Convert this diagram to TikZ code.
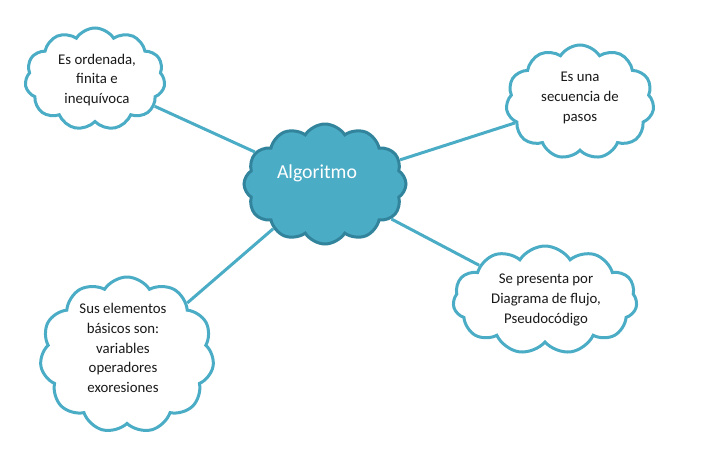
\documentclass[tikz,border=0pt]{standalone}
\usepackage{fontspec}
\setmainfont{Carlito}
\usetikzlibrary{shapes.symbols}
\definecolor{acc}{HTML}{4BACC6}
\definecolor{accdark}{HTML}{31849B}
\tikzset{
  bubble/.style={cloud, cloud puffs=11, cloud puff arc=115, cloud ignores aspect,
    draw=acc, line width=3pt, fill=white, inner sep=0pt},
  mainbubble/.style={cloud, cloud puffs=12, cloud puff arc=115, cloud ignores aspect,
    draw=accdark, line width=3pt, fill=acc, inner sep=0pt},
  txt/.style={align=center, text=black!90, font=\fontsize{14.8}{19.8}\selectfont, inner sep=0pt},
  link/.style={draw=acc, line width=3pt}
}
\begin{document}
\begin{tikzpicture}[x=1pt,y=-1pt]
\useasboundingbox (0,0) rectangle (725,466);
\node[mainbubble, minimum width=162, minimum height=120] (c) at (325,184) {};
\node[bubble, minimum width=140, minimum height=102] (tl) at (95,79) {};
\node[bubble, minimum width=148, minimum height=114] (tr) at (580,102) {};
\node[bubble, minimum width=184, minimum height=108] (br) at (545,300) {};
\node[bubble, minimum width=174, minimum height=156] (bl) at (127,355) {};
\draw[link] (tl) -- (c);
\draw[link] (tr) -- (c);
\draw[link] (br) -- (c);
\draw[link] (bl) -- (c);
\node[align=center, text=white, font=\fontsize{19.8}{22}\selectfont, inner sep=0pt] (ct) at (317,173) {Algoritmo};
\node[txt] (tlt) at (97,80) {Es ordenada,\\finita e\\inequívoca};
\node[txt] (trt) at (580,98) {Es una\\secuencia de\\pasos};
\node[txt] (brt) at (546,300) {Se presenta por\\Diagrama de flujo,\\Pseudocódigo};
\node[txt] (blt) at (123,348) {Sus elementos\\básicos son:\\variables\\operadores\\exoresiones};
\end{tikzpicture}
\end{document}
